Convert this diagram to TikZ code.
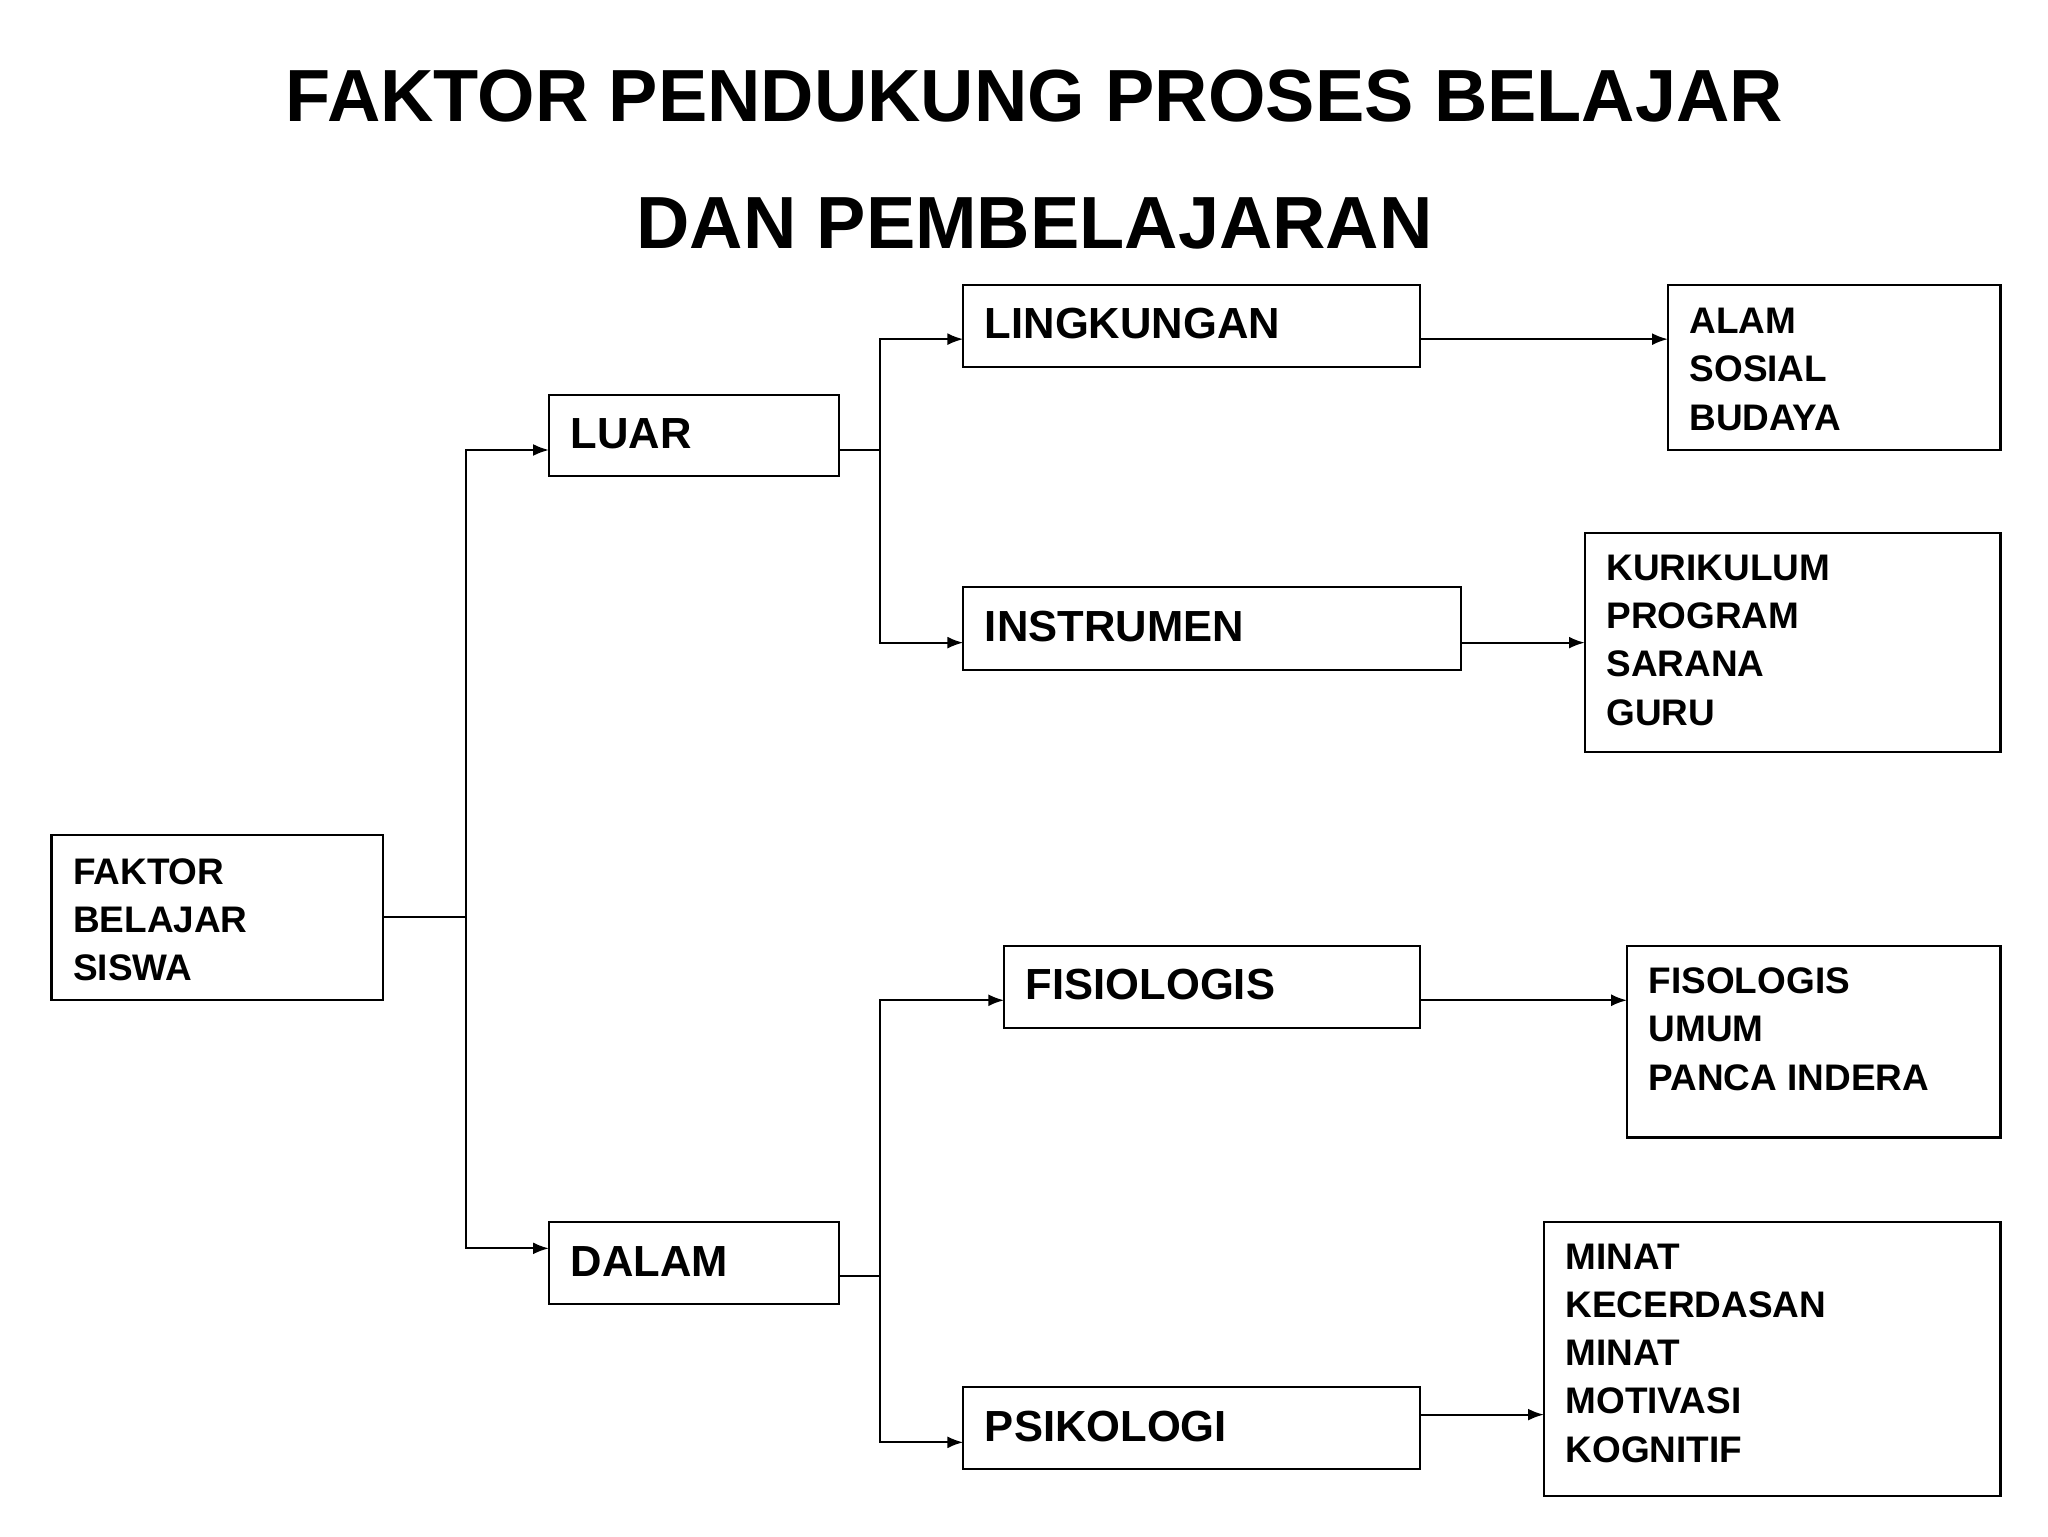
\documentclass[tikz,border=0pt]{standalone}
\usepackage{fontspec}
\setmainfont{Liberation Sans}
\usetikzlibrary{arrows.meta}
\begin{document}
\begin{tikzpicture}[x=0.5pt,y=-0.5pt,
  bx/.style={draw,line width=0.8pt,inner sep=0},
  lbl/.style={anchor=west,inner sep=0,font=\bfseries\fontsize{16.5}{20}\selectfont},
  lst/.style={anchor=north west,inner sep=0,align=left,font=\bfseries\fontsize{14}{18.3}\selectfont},
  ln/.style={line width=0.8pt},
  ar/.style={line width=0.8pt,-{Latex[length=6pt,width=4.5pt]}}]
\useasboundingbox (0,0) rectangle (1552,1164);
\node[inner sep=0,font=\bfseries\fontsize{28}{48}\selectfont,align=center] (title) at (784,121) {FAKTOR PENDUKUNG PROSES BELAJAR\\DAN PEMBELAJARAN};
% boxes
\draw[bx] (39,633) rectangle (290,758); \coordinate (fak) at (290,695);
\node[lst] (tfak) at (55,650) {FAKTOR\\BELAJAR\\SISWA};
\draw[bx] (416,299) rectangle (636,361); \node[lbl] (luar) at (432,329) {LUAR};
\draw[bx] (416,926) rectangle (636,988); \node[lbl] (dalam) at (432,956) {DALAM};
\draw[bx] (730,216) rectangle (1076,278); \node[lbl] (ling) at (746,245) {LINGKUNGAN};
\draw[bx] (730,445) rectangle (1107,508); \node[lbl] (inst) at (746,475) {INSTRUMEN};
\draw[bx] (761,717) rectangle (1076,779); \node[lbl] (fis) at (777,746) {FISIOLOGIS};
\draw[bx] (730,1051) rectangle (1076,1113); \node[lbl] (psi) at (746,1081) {PSIKOLOGI};
\draw[bx] (1264,216) rectangle (1516,341); \node[lst] (alam) at (1280,233) {ALAM\\SOSIAL\\BUDAYA};
\draw[bx] (1201,404) rectangle (1516,570); \node[lst] (kur) at (1217,420) {KURIKULUM\\PROGRAM\\SARANA\\GURU};
\draw[bx] (1233,717) rectangle (1516,862); \node[lst] (fso) at (1249,733) {FISOLOGIS\\UMUM\\PANCA INDERA};
\draw[bx] (1170,926) rectangle (1516,1134); \node[lst] (min) at (1186,942) {MINAT\\KECERDASAN\\MINAT\\MOTIVASI\\KOGNITIF};
% connectors
\coordinate (j1t) at (353,341); \coordinate (j1b) at (353,946);
\draw[ln] (fak) -- (353,695);
\draw[ar] (353,695) -- (j1t) -- (416,341);
\draw[ar] (353,695) -- (j1b) -- (416,946);
\coordinate (j2) at (667,341);
\draw[ln] (636,341) -- (j2);
\draw[ar] (j2) -- (667,257) -- (730,257);
\draw[ar] (j2) -- (667,487) -- (730,487);
\coordinate (j3) at (667,967);
\draw[ln] (636,967) -- (j3);
\draw[ar] (j3) -- (667,758) -- (761,758);
\draw[ar] (j3) -- (667,1093) -- (730,1093);
\draw[ar] (1076,257) -- (1264,257);
\draw[ar] (1107,487) -- (1201,487);
\draw[ar] (1076,758) -- (1233,758);
\draw[ar] (1076,1072) -- (1170,1072);
\end{tikzpicture}
\end{document}
